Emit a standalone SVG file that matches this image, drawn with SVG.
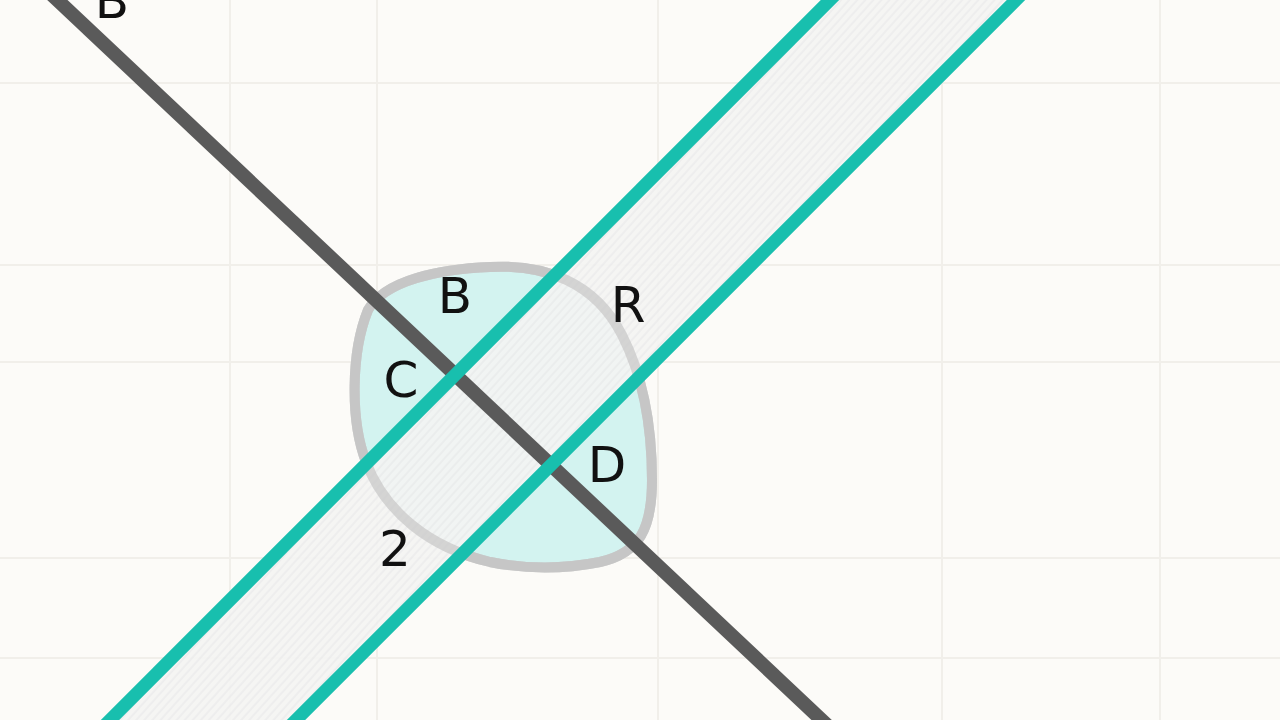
<svg xmlns="http://www.w3.org/2000/svg" width="1280" height="720" viewBox="0 0 1280 720">
  <style>
    .grid { stroke: #f1efea; stroke-width: 2; }
    .dark { stroke: #5a5a5a; stroke-width: 14; stroke-linecap: butt; }
    .teal { stroke: #18bfae; stroke-width: 13; }
    .lbl { font-family: "DejaVu Sans", "Liberation Sans", sans-serif; font-size: 50px; fill: #111; text-anchor: middle; }
  </style>
  <defs>
    <pattern id="hatch" width="6" height="6" patternUnits="userSpaceOnUse" patternTransform="rotate(-48)">
      <rect width="6" height="6" fill="#f4f4f3"/>
      <line x1="0" y1="1" x2="6" y2="1" stroke="#e2e2e2" stroke-width="0.8"/>
    </pattern>
  </defs>
  <rect width="1280" height="720" fill="#fcfbf8"/>
  <g id="grid">
    <line class="grid" x1="230" y1="0" x2="230" y2="720"/>
    <line class="grid" x1="377" y1="0" x2="377" y2="720"/>
    <line class="grid" x1="658" y1="0" x2="658" y2="720"/>
    <line class="grid" x1="942" y1="0" x2="942" y2="720"/>
    <line class="grid" x1="1160" y1="0" x2="1160" y2="720"/>
    <line class="grid" x1="0" y1="83" x2="1280" y2="83"/>
    <line class="grid" x1="0" y1="265" x2="1280" y2="265"/>
    <line class="grid" x1="0" y1="362" x2="1280" y2="362"/>
    <line class="grid" x1="0" y1="558" x2="1280" y2="558"/>
    <line class="grid" x1="0" y1="658" x2="1280" y2="658"/>
  </g>
  <g id="blob">
    <path d="M 490,267 C 545,264 595,282 622,335 C 645,380 652,430 652,480 C 652,528 640,553 600,562 C 560,570 520,568 490,562 C 430,548 385,512 366,462 C 350,420 351,352 368,310 C 385,280 440,269 490,267 Z" fill="#d3f3f0" stroke="#c4c4c4" stroke-width="10"/>
  </g>
  <g id="band">
    <polygon points="830,0 1016,0 296,720 110,720" fill="url(#hatch)" opacity="0.92"/>
  </g>
  <g id="blob-outline">
    <path d="M 490,267 C 545,264 595,282 622,335 C 645,380 652,430 652,480 C 652,528 640,553 600,562 C 560,570 520,568 490,562 C 430,548 385,512 366,462 C 350,420 351,352 368,310 C 385,280 440,269 490,267 Z" fill="none" stroke="#c8c8c8" stroke-width="10" opacity="0.7"/>
  </g>
  <g id="connectors">
    <line class="dark" x1="52" y1="-5" x2="827" y2="725"/>
    <line class="teal" x1="835" y1="-5" x2="105" y2="725"/>
    <line class="teal" x1="1021" y1="-5" x2="291" y2="725"/>
  </g>
  <g id="labels">
    <text class="lbl" x="112" y="18">B</text>
    <text class="lbl" x="455" y="313">B</text>
    <text class="lbl" x="628" y="322">R</text>
    <text class="lbl" x="401" y="397">C</text>
    <text class="lbl" x="607" y="482">D</text>
    <text class="lbl" x="395" y="566">2</text>
  </g>
</svg>
